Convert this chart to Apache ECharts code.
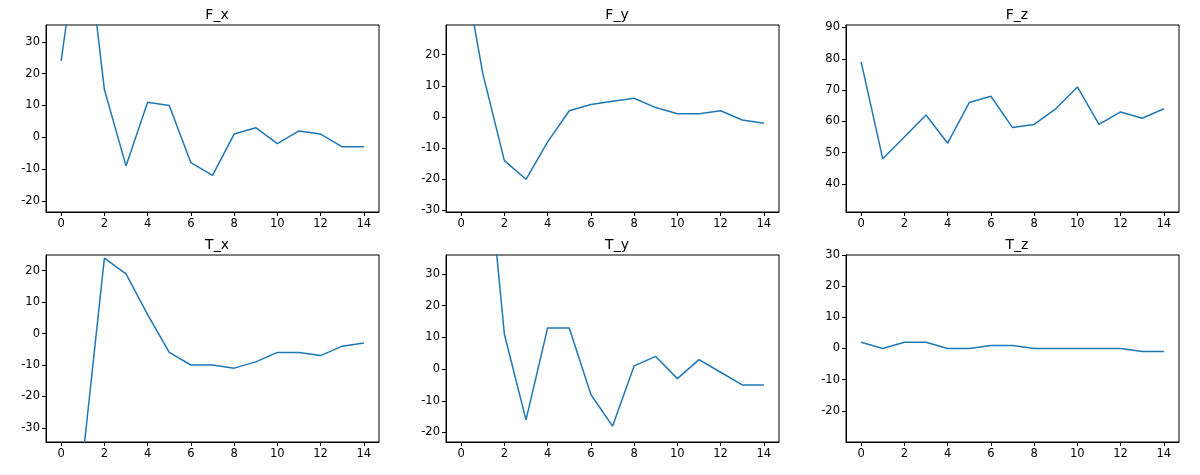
<!DOCTYPE html>
<html>
<head>
<meta charset="utf-8">
<script src="https://cdn.jsdelivr.net/npm/echarts@6/dist/echarts.min.js"></script>
<style>html,body{margin:0;padding:0;background:#fff}#chart{width:1200px;height:475px}</style>
</head>
<body>
<div id="chart"></div>
<script>
const steps = [0,1,2,3,4,5,6,7,8,9,10,11,12,13,14]
const titles = ['F_x', 'F_y', 'F_z', 'T_x', 'T_y', 'T_z']
const fx = [24, 73, 15, -9, 11, 10, -8, -12, 1, 3, -2, 2, 1, -3, -3]
const fy = [53, 14, -14, -20, -8, 2, 4, 5, 6, 3, 1, 1, 2, -1, -2]
const fz = [79, 48, 55, 62, 53, 66, 68, 58, 59, 64, 71, 59, 63, 61, 64]
const tx = [-45, -40, 24, 19, 6, -6, -10, -10, -11, -9, -6, -6, -7, -4, -3]
const ty = [60, 82, 11, -16, 13, 13, -8, -18, 1, 4, -3, 3, -1, -5, -5]
const tz = [2, 0, 2, 2, 0, 0, 1, 1, 0, 0, 0, 0, 0, -1, -1]
const seriesData = [fx, fy, fz, tx, ty, tz]
const yRanges = [[-23.5, 35.3], [-30.5, 29.5], [31, 90.8], [-34.5, 25], [-23, 36], [-30, 30]]
const yTicks = [
    [-20, -10, 0, 10, 20, 30],
    [-30, -20, -10, 0, 10, 20],
    [40, 50, 60, 70, 80, 90],
    [-30, -20, -10, 0, 10, 20],
    [-20, -10, 0, 10, 20, 30],
    [-20, -10, 0, 10, 20, 30]
]
const xTicks = [0, 2, 4, 6, 8, 10, 12, 14]

const lefts = [46, 446, 846]
const tops = [25, 255]
const font = 'DejaVu Sans'

let chart = echarts.init(document.getElementById('chart'))
let grid = [], xAxis = [], yAxis = [], series = [], title = []
for (let i = 0; i < 6; i++) {
    let col = i % 3, row = Math.floor(i / 3)
    grid.push({ left: lefts[col], top: tops[row], width: 333, height: 187,
        show: true, borderColor: '#000', borderWidth: 1, backgroundColor: 'transparent' })
    title.push({ text: titles[i], left: lefts[col] + 166, top: tops[row] - 22, textAlign: 'center',
        textStyle: { fontFamily: font, fontSize: 14, fontWeight: 'normal', color: '#000' } })
    xAxis.push({ type: 'value', gridIndex: i, min: -0.7, max: 14.7,
        axisLine: { show: true, onZero: false, lineStyle: { color: '#000' } }, splitLine: { show: false },
        axisTick: { show: true, length: 4, lineStyle: { color: '#000' }, customValues: xTicks },
        axisLabel: { color: '#000', fontFamily: font, fontSize: 11.5, margin: 6, customValues: xTicks } })
    yAxis.push({ type: 'value', gridIndex: i, min: yRanges[i][0], max: yRanges[i][1],
        axisLine: { show: true, onZero: false, lineStyle: { color: '#000' } }, splitLine: { show: false },
        axisTick: { show: true, length: 4, lineStyle: { color: '#000' }, customValues: yTicks[i] },
        axisLabel: { color: '#000', fontFamily: font, fontSize: 11.5, margin: 6, customValues: yTicks[i] } })
    series.push({ type: 'line', xAxisIndex: i, yAxisIndex: i, showSymbol: false, clip: true,
        lineStyle: { color: '#1f77b4', width: 1.5 }, itemStyle: { color: '#1f77b4' },
        data: steps.map((s, k) => [s, seriesData[i][k]]) })
}
chart.setOption({ animation: false, title, grid, xAxis, yAxis, series })
</script>
</body>
</html>
